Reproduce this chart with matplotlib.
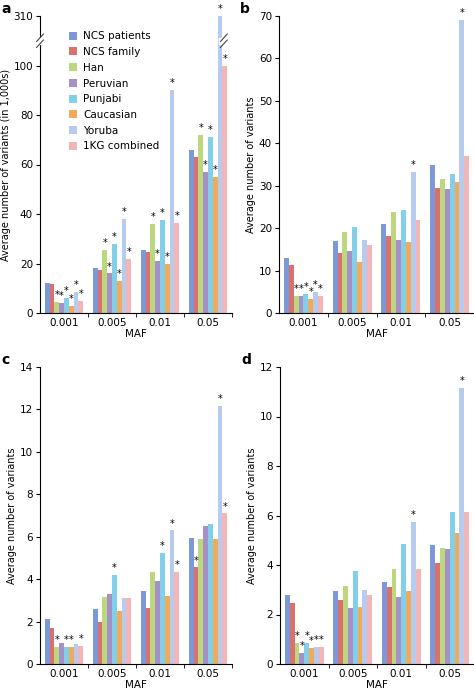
import matplotlib
matplotlib.use("Agg")
import matplotlib.pyplot as plt
import numpy as np

series = ["NCS patients", "NCS family", "Han", "Peruvian", "Punjabi", "Caucasian", "Yoruba", "1KG combined"]
colors = ["#7d98d8", "#d9726c", "#bcd77e", "#a590c8", "#82cfe9", "#f0aa5c", "#b7cbee", "#f3b5b5"]
mafs = ["0.001", "0.005", "0.01", "0.05"]

a_vals = [[12, 11.8, 4.5, 4, 6, 2.8, 8.5, 4.8],
          [18, 17.5, 25.5, 16, 28, 13, 38, 22],
          [25.3, 24.5, 36, 21, 37.5, 20, 90, 36.5],
          [66, 63, 72, 57, 71, 55, 310, 100]]
a_stars = [[2, 3, 4, 5, 6, 7], [2, 3, 4, 5, 6, 7], [2, 3, 4, 5, 6, 7], [2, 3, 4, 5, 6, 7]]

b_vals = [[13, 11.3, 4, 4, 4.5, 3.3, 5, 4],
          [17, 14.2, 19, 14.5, 20.2, 12, 17.3, 16],
          [21, 18.2, 23.7, 17.3, 24.3, 16.8, 33.3, 22],
          [34.8, 29.5, 31.7, 29.3, 32.8, 30.8, 69, 37]]
b_stars = [[2, 3, 4, 5, 6, 7], [], [6], [6]]

c_vals = [[2.1, 1.7, 0.8, 1.0, 0.8, 0.8, 0.95, 0.85],
          [2.6, 2.0, 3.15, 3.3, 4.2, 2.5, 3.1, 3.1],
          [3.45, 2.65, 4.35, 3.9, 5.25, 3.2, 6.3, 4.35],
          [5.95, 4.55, 5.9, 6.5, 6.6, 5.9, 12.15, 7.1]]
c_stars = [[2, 4, 5, 7], [4], [4, 6, 7], [1, 6, 7]]

d_vals = [[2.8, 2.45, 0.85, 0.45, 0.85, 0.65, 0.7, 0.7],
          [2.95, 2.6, 3.15, 2.25, 3.75, 2.3, 3.0, 2.8],
          [3.3, 3.1, 3.85, 2.7, 4.85, 2.95, 5.75, 3.85],
          [4.8, 4.1, 4.7, 4.65, 6.15, 5.3, 11.15, 6.15]]
d_stars = [[2, 3, 4, 5, 6, 7], [], [6], [6]]

W, H = 474, 695
fig = plt.figure(figsize=(W / 100, H / 100), dpi=100)

def mk(l, r, t, b):
    return fig.add_axes([l / W, 1 - b / H, (r - l) / W, (b - t) / H])

bw = 0.1

def panel(ax, vals, stars, ymax, yticks, ylabel, letter, brk=None):
    vals = np.array(vals, dtype=float)
    shown = vals.copy()
    if brk is not None:
        shown = np.minimum(shown, ymax)
    for i in range(8):
        x = np.arange(4) + (i - 3.5) * bw
        ax.bar(x, shown[:, i], width=bw, color=colors[i], label=series[i])
    for g in range(4):
        for i in stars[g]:
            ax.text(g + (i - 3.5) * bw, shown[g, i] + ymax * 0.006, "*",
                    ha="center", va="bottom", fontsize=7)
    ax.set_xlim(-0.5, 3.5)
    ax.set_ylim(0, ymax)
    ax.set_xticks(range(4))
    ax.set_xticklabels(mafs, fontsize=7.5)
    ax.set_xticks([0.5, 1.5, 2.5, 3.5], minor=True)
    ax.tick_params(axis="x", which="major", length=0)
    ax.tick_params(axis="x", which="minor", length=3)
    ax.tick_params(axis="y", labelsize=7.5, length=3, pad=2)
    ax.set_yticks(yticks)
    if brk is not None:
        ax.set_yticklabels([str(t) for t in yticks[:-1]] + [brk[1]])
    ax.set_xlabel("MAF", fontsize=7.5, labelpad=1)
    ax.set_ylabel(ylabel, fontsize=7, labelpad=2)
    for s in ["top", "right"]:
        ax.spines[s].set_visible(False)
    ax.text(-0.2, 1.0, letter, transform=ax.transAxes, fontsize=10,
            fontweight="bold", va="bottom", ha="left")

ax = mk(40, 232, 16, 313)
panel(ax, a_vals, a_stars, 120, [0, 20, 40, 60, 80, 100, 120],
      "Average number of variants (in 1,000s)", "a", brk=(110, "310"))
for xx in [-0.5, 3.33]:
    for dy in [-1.2, 1.2]:
        ax.plot([xx - 0.07, xx + 0.07], [110 + dy - 1.5, 110 + dy + 1.5],
                color="#444444", lw=0.8, clip_on=False, zorder=5)
ax.fill_between([-0.6, -0.4], 108.8, 111.2, color="white", zorder=4, clip_on=False)
ax.fill_between([3.22, 3.44], 108.8, 111.2, color="white", zorder=4, clip_on=False)
ax.legend(loc="upper left", bbox_to_anchor=(0.1, 0.98), frameon=False,
          fontsize=7.5, handlelength=0.8, handleheight=0.8, labelspacing=0.55,
          handletextpad=0.6)

ax = mk(279, 474, 16, 313)
panel(ax, b_vals, b_stars, 70, list(range(0, 71, 10)), "Average number of variants", "b")

ax = mk(40, 232, 367, 664)
panel(ax, c_vals, c_stars, 14, list(range(0, 15, 2)), "Average number of variants", "c")

ax = mk(280, 474, 367, 664)
panel(ax, d_vals, d_stars, 12, list(range(0, 13, 2)), "Average number of variants", "d")

fig.savefig("out.png", dpi=100)
